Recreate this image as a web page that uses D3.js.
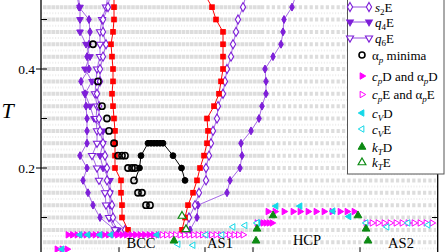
<!DOCTYPE html>
<html>
<head>
<meta charset="utf-8">
<script src="https://cdn.jsdelivr.net/npm/d3@7"></script>
<style>
  body { margin: 0; background: #fff; }
  svg { display: block; font-family: "Liberation Serif", "DejaVu Serif", serif; }
</style>
</head>
<body>
<div id="chart"></div>
<script>
// ---- data (x = density-like coordinate of the cropped window, T = temperature) ----
const gridT = [0.525, 0.5, 0.475, 0.45, 0.425, 0.4, 0.375, 0.35, 0.325, 0.3, 0.275, 0.25, 0.225, 0.2, 0.175, 0.15, 0.125, 0.1, 0.075, 0.05];
const lineT = [0.55, 0.525, 0.5, 0.475, 0.45, 0.425, 0.4, 0.375, 0.35, 0.325, 0.3, 0.275, 0.25, 0.225, 0.2, 0.175, 0.15, 0.125, 0.1, 0.075];

const redLeftX  = [0.73, 0.73, 0.73, 0.72, 0.70, 0.71, 0.72, 0.72, 0.71, 0.72, 0.73, 0.74, 0.74, 0.74, 0.74, 0.80, 0.80, 0.81, 0.81, 0.87];
const redRightX = [1.64, 1.71, 1.75, 1.82, 1.82, 1.82, 1.82, 1.80, 1.78, 1.73, 1.66, 1.67, 1.66, 1.63, 1.59, 1.56, 1.52, 1.47, 1.44, 1.41];
const s2DLeftX  = [0.36, 0.38, 0.48, 0.49, 0.48, 0.46, 0.48, 0.40, 0.44, 0.45, 0.46, 0.46, 0.46, 0.39, 0.46, 0.42, 0.47, 0.52, 0.59, 0.74];
const s2DRightX = [2.55, 2.51, 2.43, 2.42, 2.40, 2.32, 2.24, 2.25, 2.25, 2.21, 2.18, 2.10, 2.00, 2.01, 1.99, 1.89, 1.86, 1.57, 1.56, 1.49];
const s2ELeftX  = [0.69, 0.67, 0.62, 0.62, 0.65, 0.62, 0.59, 0.59, 0.56, 0.58, 0.58, 0.59, 0.62, 0.64, 0.66, 0.66, 0.69, 0.71, 0.72, 0.84];
const s2ERightX = [2.05, 2.02, 1.97, 1.95, 1.92, 1.90, 1.86, 1.84, 1.82, 1.77, 1.76, 1.72, 1.70, 1.68, 1.65, 1.65, 1.58, 1.54, 1.48, 1.45];
const q4EX      = [0.37, 0.39, 0.39, 0.39, 0.45, 0.49, 0.44, 0.51, 0.44, 0.49, 0.53, 0.62, 0.62, 0.59, 0.62, 0.69, 0.69, 0.69, 0.69, 0.77];
const q6EX      = [0.67, 0.65, 0.61, 0.59, 0.59, 0.59, 0.56, 0.55, 0.54, 0.56, 0.55, 0.56, 0.56, 0.51, 0.56, 0.58, 0.64, 0.65, 0.68, 0.74];

const alphaMinX = [0.52, 0.57, 0.61, 0.66, 0.68, 0.73, 0.77, 0.81, 0.84, 0.87, 0.91, 0.94, 0.93, 0.97, 1.01, 1.05, 1.09];
const alphaMinT = [0.45, 0.375, 0.325, 0.3, 0.275, 0.25, 0.225, 0.225, 0.225, 0.2, 0.2, 0.2, 0.175, 0.15, 0.15, 0.125, 0.125];
const alphaLineX = [0.94, 0.985, 1.00, 1.07, 1.10, 1.13, 1.16, 1.19, 1.22, 1.32, 1.405, 1.44];
const alphaLineT = [0.175, 0.2, 0.225, 0.25, 0.25, 0.25, 0.25, 0.25, 0.25, 0.225, 0.2, 0.175];

const cpDX = [0.16, 0.21, 0.26, 0.27, 0.315, 0.36, 0.405, 0.45, 0.495, 0.54, 0.585, 0.63, 0.675, 0.72, 0.765, 0.81, 0.855, 0.90, 0.945, 0.99, 1.035, 1.08, 1.125, 1.17,
              2.16, 2.19, 2.22, 2.25, 2.28, 2.31,
              2.27, 2.34, 2.43, 2.52, 2.59, 2.67, 2.75, 2.83, 2.91, 2.99, 3.06, 3.13];
const cpDT = [0.036, 0.036, 0.036, 0.065, 0.065, 0.065, 0.065, 0.065, 0.065, 0.065, 0.065, 0.065, 0.065, 0.065, 0.065, 0.065, 0.065, 0.065, 0.065, 0.065, 0.065, 0.065, 0.065, 0.065,
              0.089, 0.089, 0.089, 0.089, 0.089, 0.089,
              0.112, 0.112, 0.112, 0.112, 0.112, 0.112, 0.112, 0.112, 0.112, 0.112, 0.112, 0.112];
const cpEX = [1.21, 1.255, 1.30, 1.345, 1.39, 1.435, 1.48, 1.525, 1.57, 1.615, 1.66, 1.705, 1.75, 1.795, 1.84, 1.885, 1.93, 1.975, 2.02,
              3.25, 3.31, 3.37, 3.43, 3.49, 3.55, 3.61, 3.67, 3.73, 3.79, 3.85, 3.91];
const cpET = [0.065, 0.065, 0.065, 0.065, 0.065, 0.065, 0.065, 0.065, 0.065, 0.065, 0.065, 0.065, 0.065, 0.065, 0.065, 0.065, 0.065, 0.065, 0.065,
              0.089, 0.089, 0.089, 0.089, 0.089, 0.089, 0.089, 0.089, 0.089, 0.089, 0.089, 0.089];
const cVDX = [0.21, 0.39, 0.47, 0.59, 0.70, 1.16, 2.17, 2.35, 2.59, 2.92, 3.08];
const cVDT = [0.036, 0.065, 0.065, 0.065, 0.065, 0.065, 0.089, 0.123, 0.123, 0.113, 0.102];
const cVEX = [1.65, 1.81, 1.92, 2.04, 2.16, 1.37, 1.52, 3.25, 3.46, 3.67, 3.87];
const cVET = [0.065, 0.065, 0.081, 0.084, 0.089, 0.046, 0.044, 0.089, 0.081, 0.089, 0.085];
const kTDX = [2.32, 2.16, 2.15, 1.33, 3.17, 3.25, 3.27];
const kTDT = [0.104, 0.077, 0.053, 0.053, 0.104, 0.077, 0.053];
const kTEX = [1.41, 1.45];
const kTET = [0.103, 0.076];

// T = 0 phase boundaries (only their tops show in this window)
const boundX = [0.78, 1.64, 2.12, 3.19];

const phaseNames = ["BCC", "AS1", "HCP", "AS2"];
const phaseX = [1.00, 1.79, 2.66, 3.60];
const phaseT = [0.0375, 0.0375, 0.0435, 0.0375];

const tickT = [0.1, 0.2, 0.3, 0.4, 0.5];
const tickLabelT = [0.2, 0.4];

// ---- layout ----
const W = 448, H = 252;
const x = d3.scaleLinear().domain([0, 3.97]).range([41, 438]);
const y = d3.scaleLinear().domain([0, 0.5]).range([267, 19.5]);

const purple = "#7d1ed8", purpleLine = "#a668e6";
const red = "#ff0000", magenta = "#ff00ff", cyan = "#14d8e8", green = "#0b8a12";

const svg = d3.select("#chart").append("svg").attr("width", W).attr("height", H);
svg.append("defs").append("clipPath").attr("id", "clip")
  .append("rect").attr("x", 41).attr("y", 0).attr("width", 397).attr("height", H);

const plot = svg.append("g").attr("clip-path", "url(#clip)");

// grey sampling grid in the background
const bg = plot.append("g");
const midT = gridT.map(t => t - 0.0125);
bg.selectAll("line.faint").data(midT).join("line")
  .attr("x1", x(0)).attr("x2", x(3.97)).attr("y1", d => y(d)).attr("y2", d => y(d))
  .attr("stroke", "#eeeeee").attr("stroke-width", 2).attr("stroke-dasharray", "1.2,1.6");
bg.selectAll("line.dense").data(gridT).join("line")
  .attr("x1", x(0.02)).attr("x2", x(2.2)).attr("y1", d => y(d)).attr("y2", d => y(d))
  .attr("stroke", "#dddddd").attr("stroke-width", 4).attr("stroke-dasharray", "3.6,0.6");
bg.selectAll("line.sparse").data(gridT).join("line")
  .attr("x1", x(2.2)).attr("x2", x(3.95)).attr("y1", d => y(d)).attr("y2", d => y(d))
  .attr("stroke", "#dddddd").attr("stroke-width", 4).attr("stroke-dasharray", "3.2,2.2");

const line = d3.line().x(d => x(d[0])).y(d => y(d[1]));
const zipT = xs => xs.map((v, i) => [v, lineT[i]]);
const zip = (xs, ts) => xs.map((v, i) => [v, ts[i]]);

function drawLine(pts, color, w) {
  plot.append("path").datum(pts).attr("d", line)
    .attr("fill", "none").attr("stroke", color).attr("stroke-width", w || 1);
}
function drawMarks(pts, type, size, fill, stroke, rot, sw) {
  plot.append("g").selectAll("path").data(pts).join("path")
    .attr("transform", d => `translate(${x(d[0])},${y(d[1])}) rotate(${rot || 0})`)
    .attr("d", d3.symbol(type, size))
    .attr("fill", fill).attr("stroke", stroke).attr("stroke-width", sw || 1);
}

// purple boundaries
drawLine(zipT(s2DLeftX), purpleLine);
drawLine(zipT(q4EX), purpleLine);
drawLine(zipT(q6EX), purpleLine);
drawLine(zipT(s2ELeftX), purpleLine);
drawLine(zipT(s2DRightX), purpleLine);
drawLine(zipT(s2ERightX), purpleLine);
drawMarks(zipT(s2DLeftX), d3.symbolDiamond, 18, purple, purple);
drawMarks(zipT(s2DRightX), d3.symbolDiamond, 18, purple, purple);
drawMarks(zipT(q4EX), d3.symbolTriangle, 19, purple, purple, 180);
drawMarks(zipT(q6EX), d3.symbolTriangle, 22, "#fff", purple, 180, 1.1);
drawMarks(zipT(s2ELeftX), d3.symbolDiamond, 24, "#fff", purple, 0, 1.1);
drawMarks(zipT(s2ERightX), d3.symbolDiamond, 24, "#fff", purple, 0, 1.1);

// red boundaries
drawLine(zipT(redLeftX), red);
drawLine(zipT(redRightX), red);
drawMarks(zipT(redLeftX), d3.symbolSquare, 32, red, "none");
drawMarks(zipT(redRightX), d3.symbolSquare, 32, red, "none");

// alpha_p minima
drawLine(zip(alphaLineX, alphaLineT), "#000");
drawMarks(zip(alphaLineX, alphaLineT).slice(1), d3.symbolCircle, 26, "#000", "#000");
drawMarks(zip(alphaMinX, alphaMinT), d3.symbolCircle, 30, "none", "#000", 0, 1.6);

// response function maxima
drawMarks(zip(cpDX, cpDT), d3.symbolTriangle, 18, magenta, magenta, 90);
drawMarks(zip(cpEX, cpET), d3.symbolTriangle, 18, "#fff", magenta, 90);
drawMarks(zip(cVDX, cVDT), d3.symbolTriangle, 18, cyan, cyan, -90);
drawMarks(zip(cVEX, cVET), d3.symbolTriangle, 18, "#fff", cyan, -90);
drawMarks(zip(kTDX, kTDT), d3.symbolTriangle, 26, green, green);
drawMarks(zip(kTEX, kTET), d3.symbolTriangle, 26, "#fff", green, 0, 1.2);

// boundary tips at the bottom edge
plot.append("g").selectAll("line").data(boundX).join("line")
  .attr("x1", d => x(d)).attr("x2", d => x(d)).attr("y1", y(0)).attr("y2", y(0.04))
  .attr("stroke", "#000").attr("stroke-width", 1);

// phase labels
svg.append("g").selectAll("text").data(phaseNames).join("text")
  .attr("x", (d, i) => x(phaseX[i])).attr("y", (d, i) => y(phaseT[i]))
  .attr("text-anchor", "middle").attr("font-size", 14.5).attr("fill", "#000")
  .text(d => d);

// axes
const ax = svg.append("g");
ax.append("line").attr("x1", 41).attr("x2", 41).attr("y1", 0).attr("y2", H)
  .attr("stroke", "#000").attr("stroke-width", 1.3);
ax.append("line").attr("x1", 437.7).attr("x2", 437.7).attr("y1", 0).attr("y2", H)
  .attr("stroke", "#000").attr("stroke-width", 1.3);
ax.selectAll("line.tl").data(tickT).join("line")
  .attr("x1", d => tickLabelT.includes(d) ? 36 : 41).attr("x2", 47)
  .attr("y1", d => y(d)).attr("y2", d => y(d)).attr("stroke", "#000").attr("stroke-width", 1);
ax.selectAll("line.tr").data(tickT).join("line")
  .attr("x1", 432).attr("x2", 437.7)
  .attr("y1", d => y(d)).attr("y2", d => y(d)).attr("stroke", "#000").attr("stroke-width", 1);
ax.selectAll("text.tl").data(tickLabelT).join("text")
  .attr("x", 35).attr("y", d => y(d) + 4.5).attr("text-anchor", "end")
  .attr("font-size", 13.5).text(d => d.toFixed(1));
ax.append("text").attr("x", 1.5).attr("y", 118).attr("font-size", 22)
  .attr("font-style", "italic").text("T");

// legend
const lg = svg.append("g");
lg.append("rect").attr("x", 347.5).attr("y", -5).attr("width", 96.5).attr("height", 179)
  .attr("fill", "#fff").attr("stroke", "#555").attr("stroke-width", 1);

const legendLines = [
  { y: 7, type: d3.symbolDiamond, size: 24, fill: "#fff", rot: 0, sym: "s", sub: "2" },
  { y: 22, type: d3.symbolTriangle, size: 19, fill: purple, rot: 180, sym: "q", sub: "4" },
  { y: 38, type: d3.symbolTriangle, size: 22, fill: "#fff", rot: 180, sym: "q", sub: "6" }
];
legendLines.forEach(e => {
  lg.append("line").attr("x1", 350).attr("x2", 369).attr("y1", e.y).attr("y2", e.y)
    .attr("stroke", purpleLine).attr("stroke-width", 1.2);
  [350, 369].forEach(px => lg.append("path")
    .attr("transform", `translate(${px},${e.y}) rotate(${e.rot})`)
    .attr("d", d3.symbol(e.type, e.size)).attr("fill", e.fill).attr("stroke", purple).attr("stroke-width", 1.1));
  const t = lg.append("text").attr("x", 375).attr("y", e.y + 4.5).attr("font-size", 13);
  t.append("tspan").attr("font-style", "italic").text(e.sym);
  t.append("tspan").attr("font-size", 9).attr("dy", 3).text(e.sub);
  t.append("tspan").attr("dy", -3).text("E");
});

const legendMarks = [
  { y: 55, type: d3.symbolCircle, size: 28, fill: "none", stroke: "#000", rot: 0, sw: 1.6, parts: [["α", ""], ["p", "sub"], [" minima", ""]] },
  { y: 76, type: d3.symbolTriangle, size: 18, fill: magenta, stroke: magenta, rot: 90, parts: [["c", "it"], ["p", "sub"], ["D and α", ""], ["p", "sub"], ["D", ""]] },
  { y: 94.5, type: d3.symbolTriangle, size: 18, fill: "#fff", stroke: magenta, rot: 90, parts: [["c", "it"], ["p", "sub"], ["E and α", ""], ["p", "sub"], ["E", ""]] },
  { y: 113, type: d3.symbolTriangle, size: 18, fill: cyan, stroke: cyan, rot: -90, parts: [["c", "it"], ["V", "sub"], ["D", ""]] },
  { y: 129, type: d3.symbolTriangle, size: 18, fill: "#fff", stroke: cyan, rot: -90, parts: [["c", "it"], ["V", "sub"], ["E", ""]] },
  { y: 147, type: d3.symbolTriangle, size: 26, fill: green, stroke: green, rot: 0, parts: [["k", "it"], ["T", "sub"], ["D", ""]] },
  { y: 162.5, type: d3.symbolTriangle, size: 26, fill: "#fff", stroke: green, rot: 0, sw: 1.2, parts: [["k", "it"], ["T", "sub"], ["E", ""]] }
];
legendMarks.forEach(e => {
  lg.append("path").attr("transform", `translate(362,${e.y}) rotate(${e.rot})`)
    .attr("d", d3.symbol(e.type, e.size)).attr("fill", e.fill).attr("stroke", e.stroke)
    .attr("stroke-width", e.sw || 1);
  const t = lg.append("text").attr("x", 372).attr("y", e.y + 4.5).attr("font-size", 13);
  let shifted = false;
  e.parts.forEach(([s, kind]) => {
    const ts = t.append("tspan").text(s);
    if (kind === "it") ts.attr("font-style", "italic");
    if (kind === "sub") {
      ts.attr("font-style", "italic").attr("font-size", 9).attr("dy", 3);
      shifted = true;
    } else if (shifted) {
      ts.attr("dy", -3);
      shifted = false;
    }
  });
});
</script>
</body>
</html>
